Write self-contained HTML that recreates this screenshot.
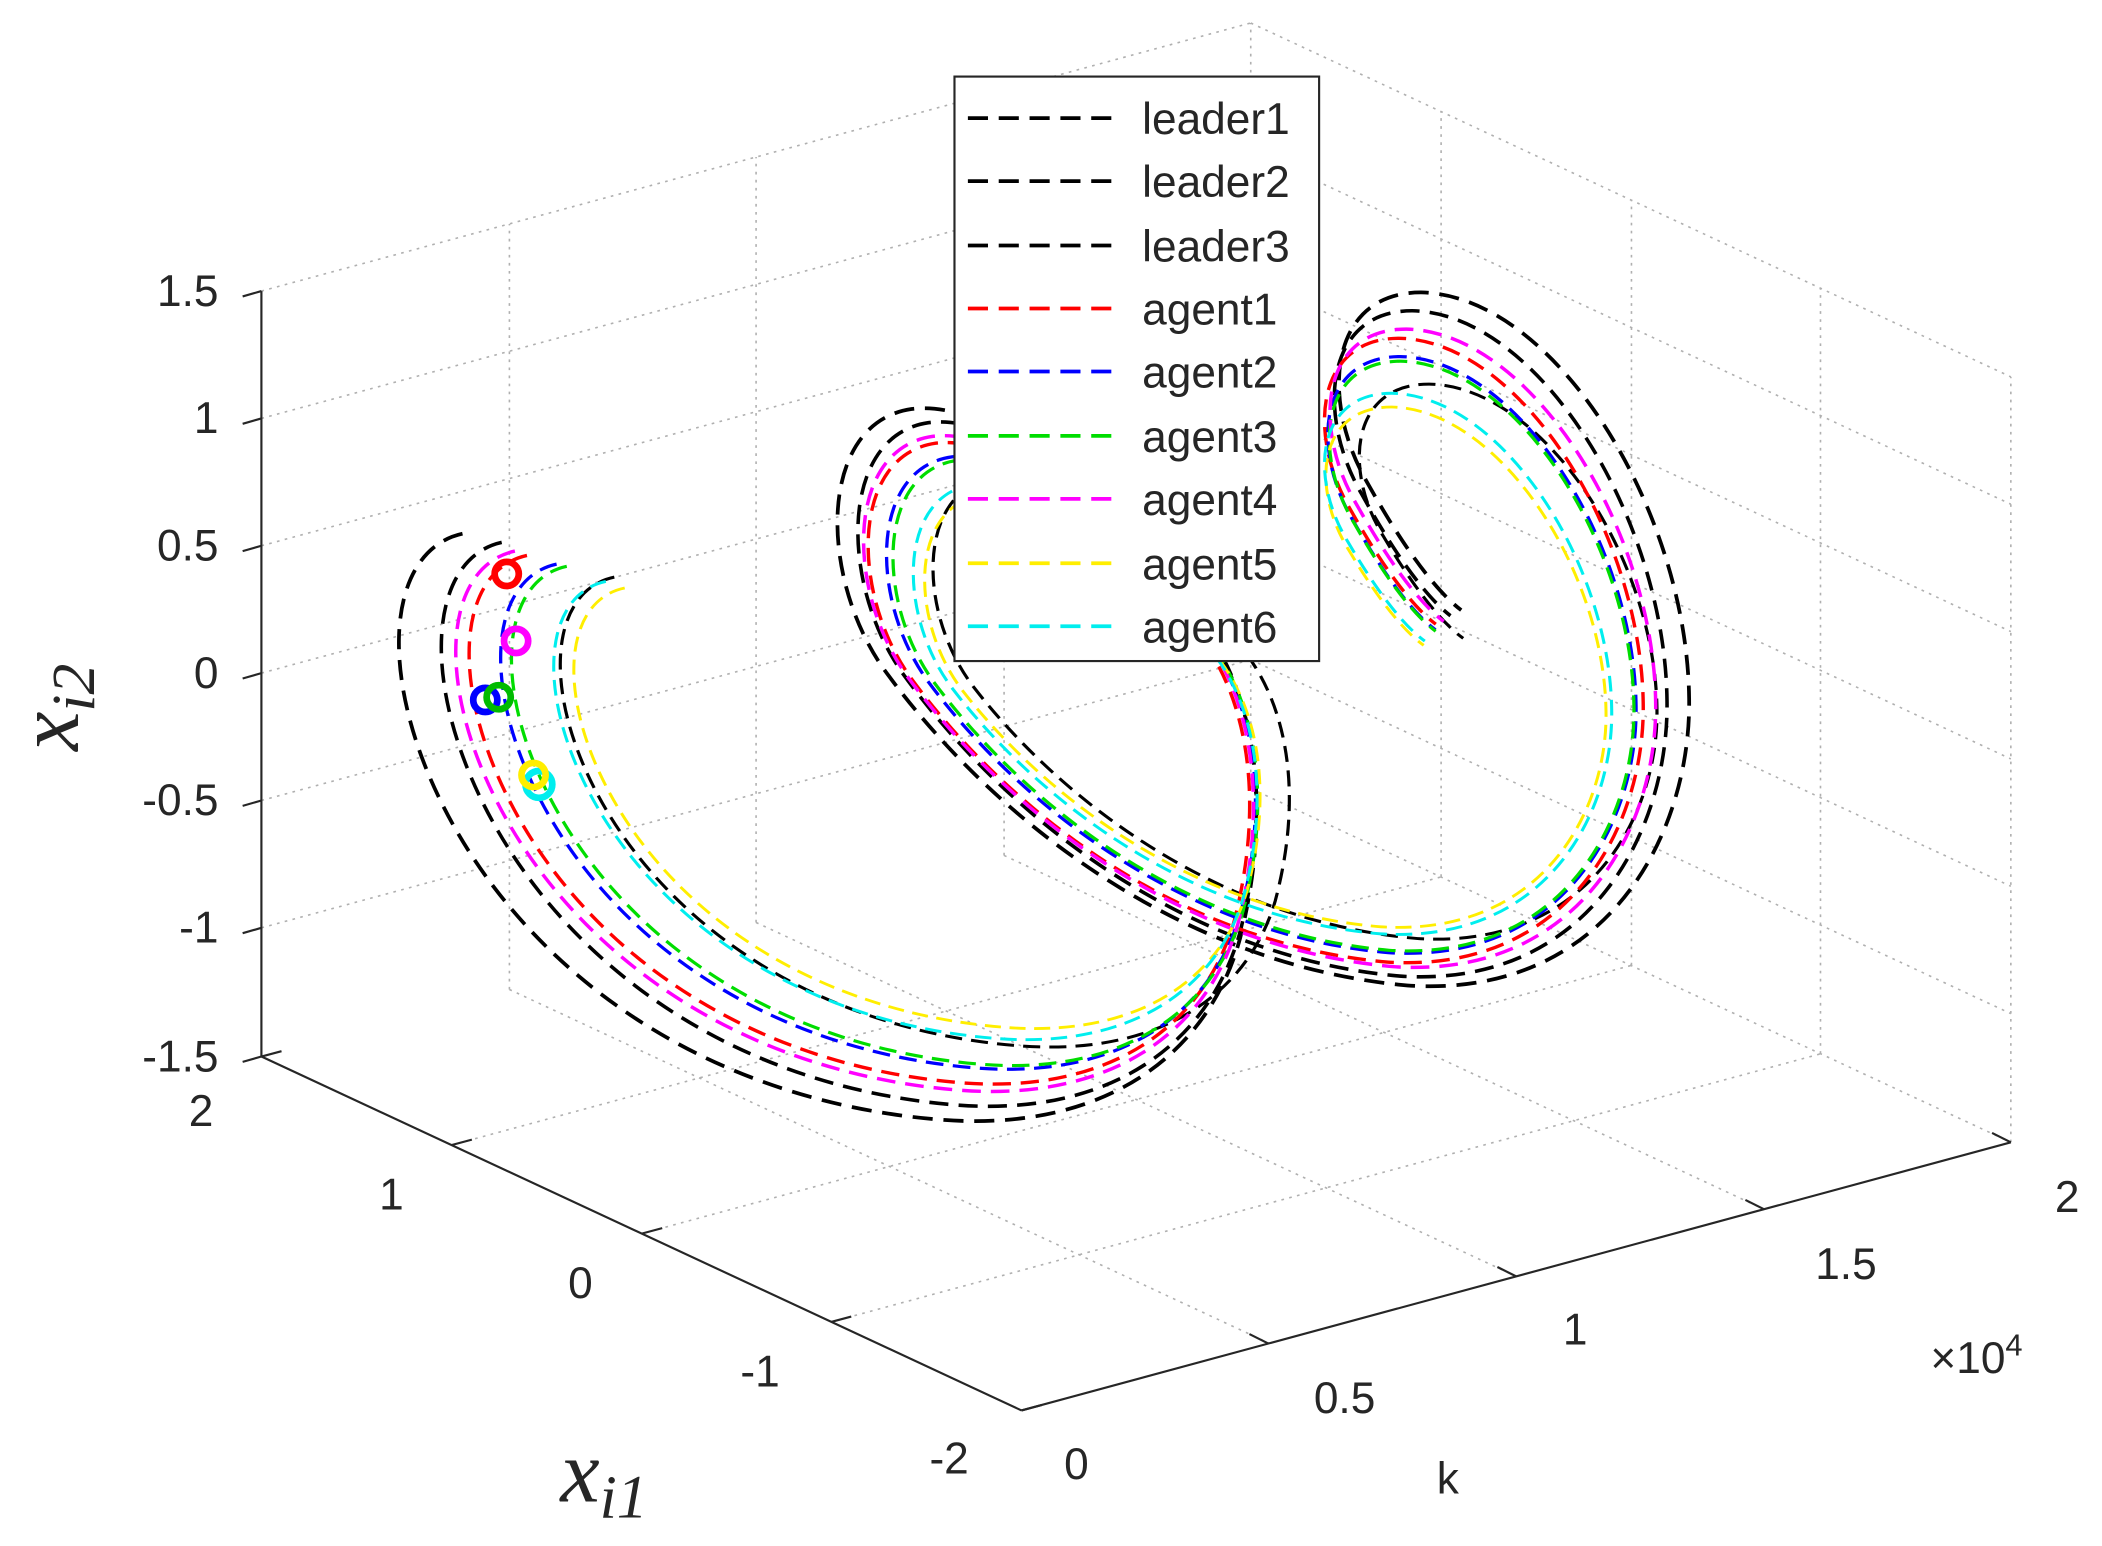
<!DOCTYPE html>
<html><head><meta charset="utf-8"><style>
html,body{margin:0;padding:0;background:#fff;}
svg{display:block;}
</style></head><body>
<svg width="2102" height="1546" viewBox="0 0 1568 1153" xmlns="http://www.w3.org/2000/svg" font-family="Liberation Sans, Arial, sans-serif" fill="#262626">
<defs>
<path id="traj" d="M 345,398 C 290,410 280,500 330,600 C 390,720 520,820 700,835 C 820,845 900,790 925,700 C 950,600 935,520 900,470 C 870,420 760,295 680,305 C 610,315 610,430 660,500 C 740,610 880,720 1050,735 C 1200,745 1262,620 1260,520 C 1258,380 1160,220 1060,218 C 990,218 985,300 1020,360 C 1045,405 1070,440 1090,455" fill="none"/>
</defs>
<g stroke="#b0b0b0" stroke-width="1.2" stroke-dasharray="2,4" fill="none">
<line x1="195" y1="217" x2="933" y2="17"/>
<line x1="195" y1="312" x2="933" y2="112"/>
<line x1="195" y1="407" x2="933" y2="207"/>
<line x1="195" y1="502" x2="933" y2="302"/>
<line x1="195" y1="597" x2="933" y2="397"/>
<line x1="195" y1="692" x2="933" y2="492"/>
<line x1="380" y1="738" x2="380" y2="167"/>
<line x1="564" y1="688" x2="564" y2="117"/>
<line x1="749" y1="638" x2="749" y2="67"/>
<line x1="933" y1="588" x2="933" y2="17"/>
<line x1="933" y1="17" x2="1500" y2="281"/>
<line x1="933" y1="112" x2="1500" y2="376"/>
<line x1="933" y1="207" x2="1500" y2="471"/>
<line x1="933" y1="302" x2="1500" y2="566"/>
<line x1="933" y1="397" x2="1500" y2="661"/>
<line x1="933" y1="492" x2="1500" y2="756"/>
<line x1="1075" y1="654" x2="1075" y2="83"/>
<line x1="1217" y1="720" x2="1217" y2="149"/>
<line x1="1358" y1="786" x2="1358" y2="215"/>
<line x1="1500" y1="852" x2="1500" y2="281"/>
<line x1="933" y1="588" x2="1500" y2="852"/>
<line x1="337" y1="854" x2="1075" y2="654"/>
<line x1="479" y1="920" x2="1217" y2="720"/>
<line x1="620" y1="986" x2="1358" y2="786"/>
<line x1="380" y1="738" x2="947" y2="1002"/>
<line x1="564" y1="688" x2="1131" y2="952"/>
<line x1="749" y1="638" x2="1316" y2="902"/>
</g>
<g stroke="#262626" stroke-width="1.6" fill="none">
<line x1="195" y1="217" x2="195" y2="788"/>
<line x1="195" y1="788" x2="762" y2="1052"/>
<line x1="762" y1="1052" x2="1500" y2="852"/>
<line x1="195" y1="217" x2="181" y2="221"/><line x1="195" y1="312" x2="181" y2="316"/>
<line x1="195" y1="407" x2="181" y2="411"/><line x1="195" y1="502" x2="181" y2="506"/>
<line x1="195" y1="597" x2="181" y2="601"/><line x1="195" y1="692" x2="181" y2="696"/>
<line x1="195" y1="788" x2="181" y2="792"/>
<line x1="195" y1="788" x2="210" y2="784"/><line x1="337" y1="854" x2="352" y2="850"/>
<line x1="479" y1="920" x2="494" y2="916"/><line x1="620" y1="986" x2="635" y2="982"/>
<line x1="762" y1="1052" x2="777" y2="1048"/>
<line x1="946" y1="1002" x2="932" y2="995"/><line x1="1131" y1="952" x2="1117" y2="945"/>
<line x1="1316" y1="902" x2="1302" y2="895"/><line x1="1500" y1="852" x2="1486" y2="845"/>
</g>
<g fill="none" stroke-width="2.8" stroke-dasharray="15,8">
<use href="#traj" stroke="#000" transform="translate(930,560) scale(1.0) translate(-930,-560)"/>
<use href="#traj" stroke="#000" transform="translate(930,560) scale(0.95,0.96) translate(-930,-560)"/>
<use href="#traj" stroke="#000" transform="translate(930,560) scale(0.85,0.8) translate(-900,-560)"/>
<use href="#traj" stroke="#ff0000" transform="translate(930,560) scale(0.91,0.9) translate(-935,-560)"/>
<use href="#traj" stroke="#0000ff" transform="translate(930,560) scale(0.88,0.86) translate(-930,-560)"/>
<use href="#traj" stroke="#00dd00" transform="translate(930,560) scale(0.87,0.85) translate(-928,-560)"/>
<use href="#traj" stroke="#ff00ff" transform="translate(930,560) scale(0.93,0.92) translate(-932,-560)"/>
<use href="#traj" stroke="#ffee00" transform="translate(930,560) scale(0.8,0.75) translate(-925,-560)"/>
<use href="#traj" stroke="#00eeee" transform="translate(930,560) scale(0.82,0.78) translate(-928,-560)"/>
</g>
<g fill="none" stroke-width="5">
<circle cx="378" cy="428" r="9" stroke="#ff0000"/>
<circle cx="385" cy="478" r="9" stroke="#ff00ff"/>
<circle cx="362" cy="522" r="9" stroke="#0000ff"/>
<circle cx="372" cy="520" r="9" stroke="#00bb00"/>
<circle cx="402" cy="585" r="10" stroke="#00eeee"/>
<circle cx="398" cy="578" r="9" stroke="#ffee00"/>
</g>
<rect x="712" y="57" width="272" height="436" fill="#fff" stroke="#262626" stroke-width="1.6"/>
<g stroke-width="2.8" stroke-dasharray="15,8">
<line x1="722" y1="88" x2="835" y2="88" stroke="#000"/>
<line x1="722" y1="135" x2="835" y2="135" stroke="#000"/>
<line x1="722" y1="183" x2="835" y2="183" stroke="#000"/>
<line x1="722" y1="230" x2="835" y2="230" stroke="#ff0000"/>
<line x1="722" y1="277" x2="835" y2="277" stroke="#0000ff"/>
<line x1="722" y1="325" x2="835" y2="325" stroke="#00dd00"/>
<line x1="722" y1="372" x2="835" y2="372" stroke="#ff00ff"/>
<line x1="722" y1="420" x2="835" y2="420" stroke="#ffee00"/>
<line x1="722" y1="467" x2="835" y2="467" stroke="#00eeee"/>
</g>
<g font-size="33">
<text x="852" y="100">leader1</text><text x="852" y="147">leader2</text><text x="852" y="195">leader3</text>
<text x="852" y="242">agent1</text><text x="852" y="289">agent2</text><text x="852" y="337">agent3</text>
<text x="852" y="384">agent4</text><text x="852" y="432">agent5</text><text x="852" y="479">agent6</text>
</g>
<g font-size="33" text-anchor="end">
<text x="163" y="228">1.5</text><text x="163" y="323">1</text><text x="163" y="418">0.5</text>
<text x="163" y="513">0</text><text x="163" y="608">-0.5</text><text x="163" y="703">-1</text>
<text x="163" y="799">-1.5</text>
</g>
<g font-size="33" text-anchor="middle">
<text x="150" y="840">2</text><text x="292" y="902">1</text><text x="433" y="968">0</text>
<text x="567" y="1034">-1</text><text x="708" y="1099">-2</text>
<text x="803" y="1103">0</text><text x="1003" y="1054">0.5</text><text x="1175" y="1003">1</text>
<text x="1377" y="954">1.5</text><text x="1542" y="904">2</text>
<text x="1080" y="1114">k</text>
</g>
<text x="1440" y="1024" font-size="33">×10<tspan font-size="23" dy="-13">4</tspan></text>
<text x="418" y="1120" style="font-family:'Liberation Serif',serif;font-style:italic;font-size:66px">x<tspan dy="12" style="font-size:46px">i1</tspan></text>
<text transform="translate(58,560) rotate(-90)" style="font-family:'Liberation Serif',serif;font-style:italic;font-size:66px">x<tspan dy="12" style="font-size:46px">i2</tspan></text>
</svg>
</body></html>
